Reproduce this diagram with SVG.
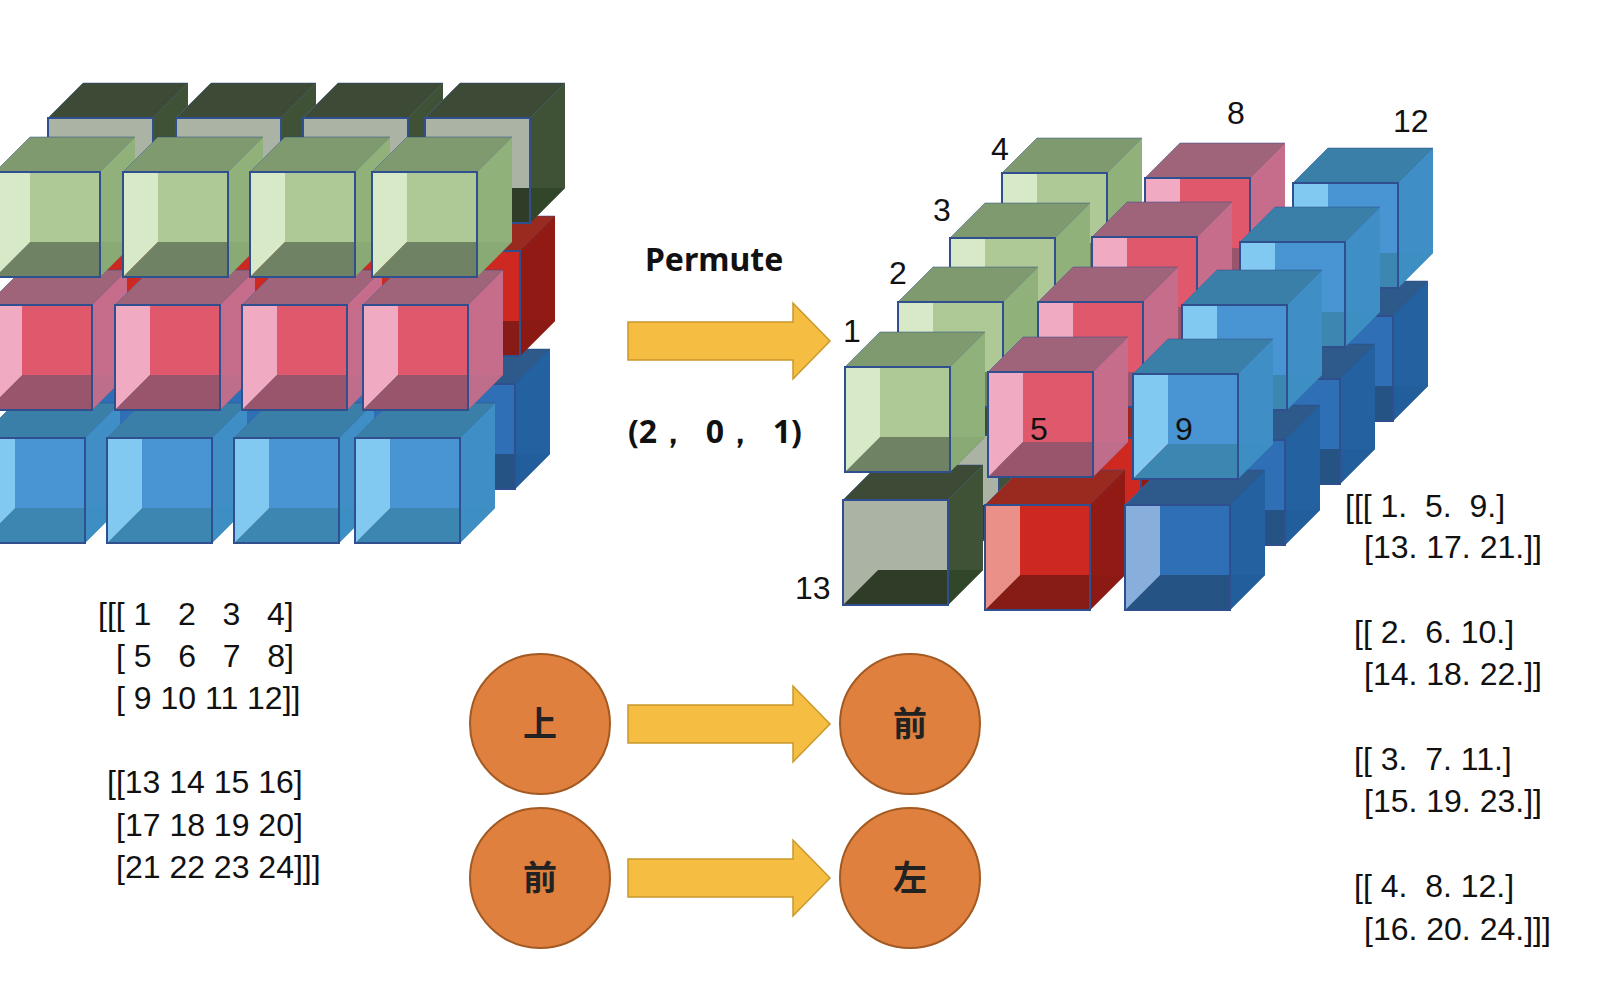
<svg xmlns="http://www.w3.org/2000/svg" width="1600" height="986" viewBox="0 0 1600 986">
<style>
.bk{fill:var(--bk)}.lw{fill:var(--lw)}.fl{fill:var(--fl)}.tp{fill:var(--tp)}.sd{fill:var(--sd);opacity:.92}
.fr{fill:var(--fr);fill-opacity:.18;stroke:#2f4f8f;stroke-width:2}
.t{font-family:"Liberation Sans",Arial,sans-serif;font-size:32px;fill:#111;white-space:pre}
.b{font-family:"Noto Sans","Liberation Sans",sans-serif;font-weight:bold;font-size:32px;fill:#111;white-space:pre}
.c{font-family:"Noto Sans CJK SC",sans-serif;font-size:34px;font-weight:bold;fill:#222;text-anchor:middle}
.arr{fill:#f5bd42;stroke:#c9982c;stroke-width:1.5}
.cir{fill:#e0803f;stroke:#a35a22;stroke-width:2}
.g{--bk:#a9c58f;--lw:#dcecce;--fl:#5c6e52;--tp:#7e9a6e;--sd:#8eaf78;--fr:#c8e0b0}
.dg{--bk:#c5cbbf;--lw:#c5cbbf;--fl:#2e3a28;--tp:#3d4a35;--sd:#33482a;--fr:#33482a}
.p{--bk:#e0505e;--lw:#f5b5c8;--fl:#8a4c60;--tp:#a0647a;--sd:#c2708e;--fr:#e07fa5}
.r{--bk:#d02a20;--lw:#f4a6a0;--fl:#7a1a14;--tp:#9a2a20;--sd:#8b1a14;--fr:#c0281f}
.bl{--bk:#4a90d0;--lw:#8fd0f5;--fl:#3a7fa8;--tp:#3a7fa8;--sd:#3e8fc4;--fr:#4aabe6}
.db{--bk:#2f6fb5;--lw:#9dbde3;--fl:#244e78;--tp:#2d5a8a;--sd:#2460a0;--fr:#2f6fb5}
</style>
<defs>
<g id="cube">
<rect class="bk" x="35" y="-35" width="105" height="105"/>
<path class="lw" d="M0 0L35 -35L35 70L0 105Z"/>
<path class="fl" d="M0 105L35 70L140 70L105 105Z"/>
<path class="tp" d="M0 0L35 -35L140 -35L105 0Z" stroke="#2f4f8f" stroke-width="0.5"/>
<path class="sd" d="M105 0L140 -35L140 70L105 105Z"/>
<rect class="fr" x="0" y="0" width="105" height="105"/>
</g>
<path id="arrow" class="arr" d="M0 -19H165V-38L202 0L165 38V19H0Z"/>
</defs>
<g id="left-block">
<use href="#cube" class="db" x="50" y="384"/><use href="#cube" class="db" x="170" y="384"/><use href="#cube" class="db" x="295" y="384"/><use href="#cube" class="db" x="410" y="384"/>
<use href="#cube" class="r" x="45" y="251"/><use href="#cube" class="r" x="165" y="251"/><use href="#cube" class="r" x="292" y="251"/><use href="#cube" class="r" x="415" y="251"/>
<use href="#cube" class="dg" x="48" y="118"/><use href="#cube" class="dg" x="176" y="118"/><use href="#cube" class="dg" x="303" y="118"/><use href="#cube" class="dg" x="425" y="118"/>
<use href="#cube" class="bl" x="-20" y="438"/><use href="#cube" class="bl" x="107" y="438"/><use href="#cube" class="bl" x="234" y="438"/><use href="#cube" class="bl" x="355" y="438"/>
<use href="#cube" class="p" x="-13" y="305"/><use href="#cube" class="p" x="115" y="305"/><use href="#cube" class="p" x="242" y="305"/><use href="#cube" class="p" x="363" y="305"/>
<use href="#cube" class="g" x="-5" y="172"/><use href="#cube" class="g" x="123" y="172"/><use href="#cube" class="g" x="250" y="172"/><use href="#cube" class="g" x="372" y="172"/>
</g>
<g id="right-block">
<use href="#cube" class="dg" x="998" y="306"/><use href="#cube" class="r" x="1140" y="311"/><use href="#cube" class="db" x="1288" y="316"/>
<use href="#cube" class="g" x="1002" y="173"/><use href="#cube" class="p" x="1145" y="178"/><use href="#cube" class="bl" x="1293" y="183"/>
<use href="#cube" class="dg" x="946" y="371"/><use href="#cube" class="r" x="1088" y="376"/><use href="#cube" class="db" x="1235" y="379"/>
<use href="#cube" class="g" x="950" y="238"/><use href="#cube" class="p" x="1092" y="237"/><use href="#cube" class="bl" x="1240" y="242"/>
<use href="#cube" class="dg" x="894" y="435"/><use href="#cube" class="r" x="1036" y="438"/><use href="#cube" class="db" x="1180" y="440"/>
<use href="#cube" class="g" x="898" y="302"/><use href="#cube" class="p" x="1038" y="302"/><use href="#cube" class="bl" x="1182" y="305"/>
<use href="#cube" class="dg" x="843" y="500"/><use href="#cube" class="r" x="985" y="505"/><use href="#cube" class="db" x="1125" y="505"/>
<use href="#cube" class="g" x="845" y="367"/><use href="#cube" class="p" x="988" y="372"/><use href="#cube" class="bl" x="1133" y="374"/>
</g>
<g id="labels">
<text class="t" x="843" y="342">1</text><text class="t" x="889" y="284">2</text><text class="t" x="933" y="221">3</text><text class="t" x="991" y="160">4</text>
<text class="t" x="1227" y="124">8</text><text class="t" x="1393" y="132">12</text><text class="t" x="1030" y="440">5</text><text class="t" x="1175" y="440">9</text><text class="t" x="795" y="599">13</text>
<text class="b" x="645" y="271">Permute</text>
<text class="b" x="628" y="443">(2，  0，  1)</text>
</g>
<g id="matrix-left">
<text class="t" x="98" y="625">[[[ 1   2   3   4]</text>
<text class="t" x="116" y="667">[ 5   6   7   8]</text>
<text class="t" x="116" y="709">[ 9 10 11 12]]</text>
<text class="t" x="107" y="793">[[13 14 15 16]</text>
<text class="t" x="116" y="836">[17 18 19 20]</text>
<text class="t" x="116" y="878">[21 22 23 24]]]</text>
</g>
<g id="matrix-right">
<text class="t" x="1345" y="517">[[[ 1.  5.  9.]</text>
<text class="t" x="1364" y="558">[13. 17. 21.]]</text>
<text class="t" x="1354" y="643">[[ 2.  6. 10.]</text>
<text class="t" x="1364" y="685">[14. 18. 22.]]</text>
<text class="t" x="1354" y="770">[[ 3.  7. 11.]</text>
<text class="t" x="1364" y="812">[15. 19. 23.]]</text>
<text class="t" x="1354" y="897">[[ 4.  8. 12.]</text>
<text class="t" x="1364" y="940">[16. 20. 24.]]]</text>
</g>
<g id="connectors">
<use href="#arrow" x="628" y="341"/>
<use href="#arrow" x="628" y="724"/>
<use href="#arrow" x="628" y="878"/>
</g>
<g id="n-shang"><circle class="cir" cx="540" cy="724" r="70"/><text class="c" x="540" y="736">上</text></g>
<g id="n-qian1"><circle class="cir" cx="910" cy="724" r="70"/><text class="c" x="910" y="736">前</text></g>
<g id="n-qian2"><circle class="cir" cx="540" cy="878" r="70"/><text class="c" x="540" y="890">前</text></g>
<g id="n-zuo"><circle class="cir" cx="910" cy="878" r="70"/><text class="c" x="910" y="890">左</text></g>
</svg>
